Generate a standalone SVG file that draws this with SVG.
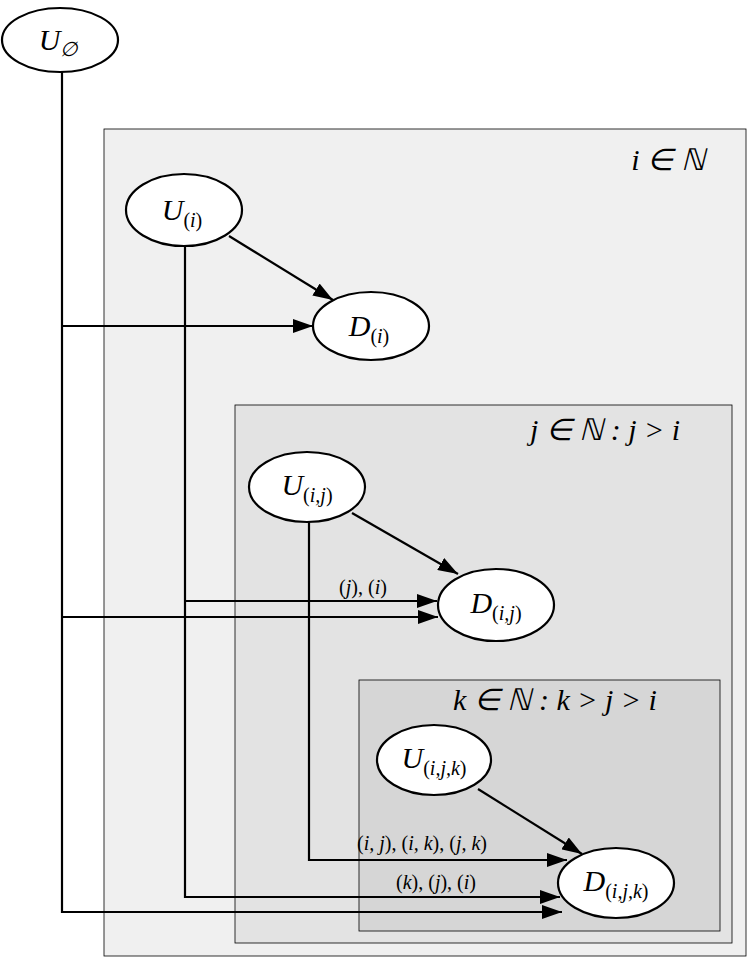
<svg xmlns="http://www.w3.org/2000/svg" width="748" height="961" viewBox="0 0 748 961">
<style>
.n{fill:#fff;stroke:#000;stroke-width:2.2}
.p{stroke:#000;stroke-width:0.8}
.t{font-family:"Liberation Serif",serif;font-style:italic;font-size:30px;text-anchor:middle}
.s{font-size:20px}
.l{font-family:"Liberation Serif",serif;font-size:20px;text-anchor:middle}
.c{fill:none;stroke:#000;stroke-width:2.2}
</style>
<defs><marker id="b" viewBox="0 0 20 14" markerWidth="20" markerHeight="14" refX="20" refY="7" orient="auto" markerUnits="userSpaceOnUse"><path d="M0,0L20,7L0,14z"/></marker></defs>
<rect class="p" x="104" y="129" width="642" height="827" fill="#f0f0f0"/>
<text class="t" x="668" y="170">i ∈ ℕ</text>
<rect class="p" x="235" y="405" width="497" height="538" fill="#e3e3e3"/>
<text class="t" x="605" y="440">j ∈ ℕ : j &gt; i</text>
<rect class="p" x="359" y="680" width="361" height="251" fill="#d6d6d6"/>
<text class="t" x="555" y="710">k ∈ ℕ : k &gt; j &gt; i</text>
<g id="connectors">
<path class="c" d="M62,72V912H562" marker-end="url(#b)"/>
<path class="c" d="M62,326H313" marker-end="url(#b)"/>
<path class="c" d="M62,617H438" marker-end="url(#b)"/>
<path class="c" d="M185,246V897H560" marker-end="url(#b)"/>
<path class="c" d="M185,601H437" marker-end="url(#b)"/>
<path class="c" d="M309,522V860H567" marker-end="url(#b)"/>
<path class="c" d="M229,236L333,300" marker-end="url(#b)"/>
<path class="c" d="M352,513L458,574" marker-end="url(#b)"/>
<path class="c" d="M478,789L582,854" marker-end="url(#b)"/>
<text class="l" x="363" y="594">(<tspan font-style="italic">j</tspan>), (<tspan font-style="italic">i</tspan>)</text>
<text class="l" x="422" y="850">(<tspan font-style="italic">i, j</tspan>), (<tspan font-style="italic">i, k</tspan>), (<tspan font-style="italic">j, k</tspan>)</text>
<text class="l" x="436" y="889">(<tspan font-style="italic">k</tspan>), (<tspan font-style="italic">j</tspan>), (<tspan font-style="italic">i</tspan>)</text>
</g>
<g id="U0"><ellipse class="n" cx="60" cy="40" rx="58" ry="32"/><text class="t" x="58" y="50">U<tspan class="s" dy="6">∅</tspan></text></g>
<g id="Ui"><ellipse class="n" cx="184" cy="210" rx="58" ry="36"/><text class="t" x="182" y="220">U<tspan class="s" dy="7" font-style="normal">(<tspan font-style="italic">i</tspan>)</tspan></text></g>
<g id="Di"><ellipse class="n" cx="371" cy="326" rx="58" ry="34"/><text class="t" x="369" y="336">D<tspan class="s" dy="7" font-style="normal">(<tspan font-style="italic">i</tspan>)</tspan></text></g>
<g id="Uij"><ellipse class="n" cx="307" cy="487" rx="58" ry="35"/><text class="t" x="307" y="495">U<tspan class="s" dy="7" font-style="normal">(<tspan font-style="italic">i,j</tspan>)</tspan></text></g>
<g id="Dij"><ellipse class="n" cx="496" cy="605" rx="58" ry="36"/><text class="t" x="496" y="613">D<tspan class="s" dy="7" font-style="normal">(<tspan font-style="italic">i,j</tspan>)</tspan></text></g>
<g id="Uijk"><ellipse class="n" cx="434" cy="760" rx="57" ry="35"/><text class="t" x="434" y="768">U<tspan class="s" dy="7" font-style="normal">(<tspan font-style="italic">i,j,k</tspan>)</tspan></text></g>
<g id="Dijk"><ellipse class="n" cx="616" cy="883" rx="58" ry="35"/><text class="t" x="616" y="891">D<tspan class="s" dy="7" font-style="normal">(<tspan font-style="italic">i,j,k</tspan>)</tspan></text></g>
</svg>
